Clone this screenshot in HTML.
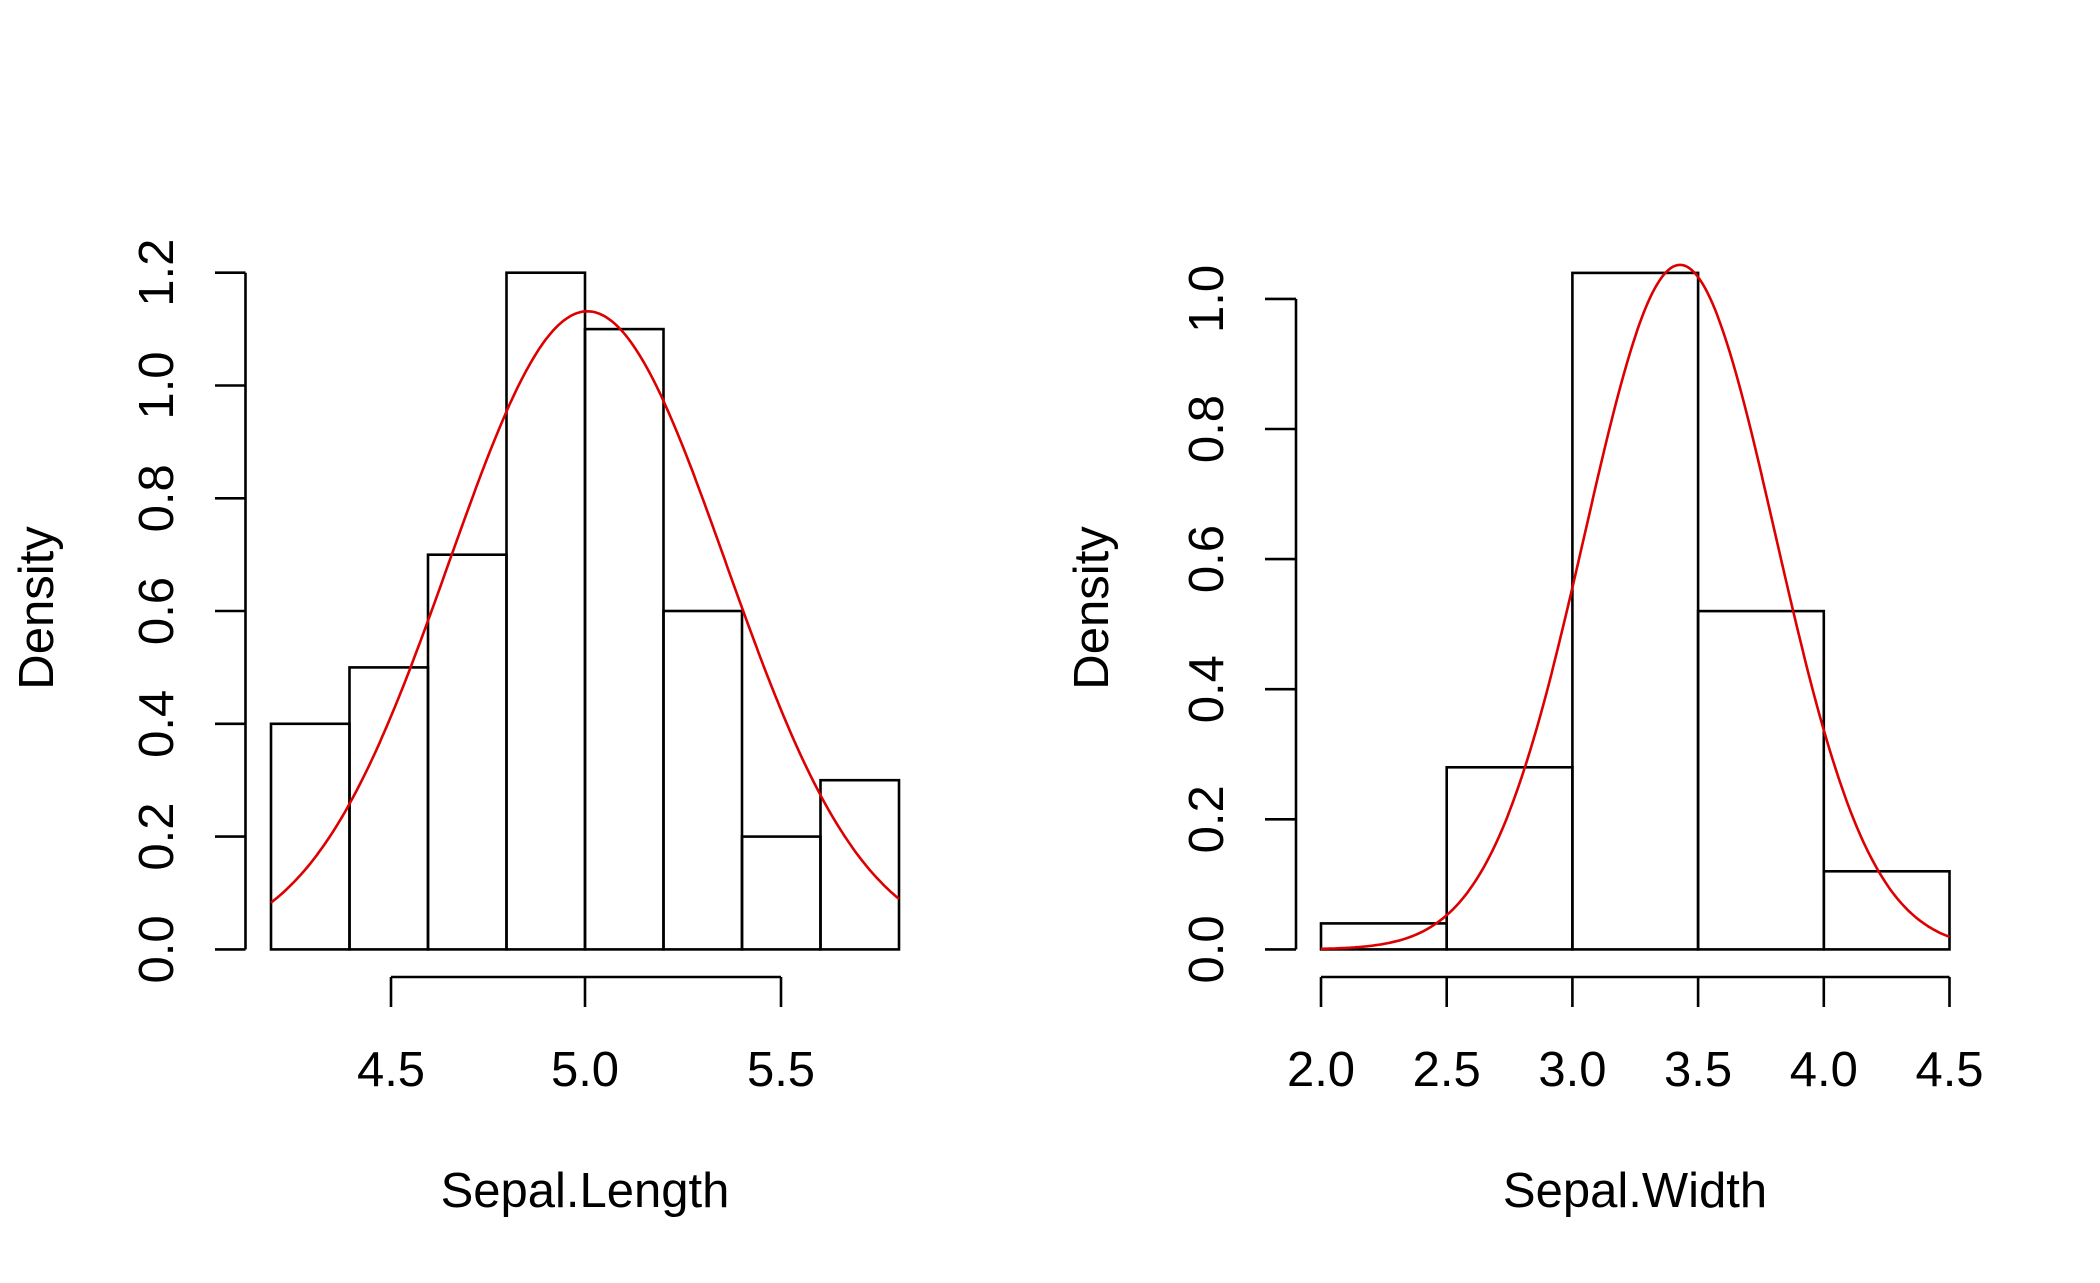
<!DOCTYPE html>
<html><head><meta charset="utf-8"><style>
html,body{margin:0;padding:0;background:#fff;}
svg{display:block;}
text{font-family:"Liberation Sans",Arial,sans-serif;font-size:49px;fill:#000;}
</style></head><body>
<svg id="s" width="2100" height="1283" viewBox="0 0 2100 1283" xmlns="http://www.w3.org/2000/svg">
<g stroke="#000" stroke-width="2.6" fill="none">
<path d="M245.5,272.7 V949.4 M215,949.4 H245.5 M215,836.6 H245.5 M215,723.8 H245.5 M215,611 H245.5 M215,498.3 H245.5 M215,385.5 H245.5 M215,272.7 H245.5"/>
<path d="M391,977 H781 M391,977 V1007 M585,977 V1007 M781,977 V1007"/>
<rect x="271" y="723.8" width="78.5" height="225.6"/>
<rect x="349.5" y="667.4" width="78.5" height="282"/>
<rect x="428" y="554.7" width="78.5" height="394.7"/>
<rect x="506.5" y="272.7" width="78.5" height="676.7"/>
<rect x="585" y="329.1" width="78.5" height="620.3"/>
<rect x="663.5" y="611" width="78.5" height="338.4"/>
<rect x="742" y="836.6" width="78.5" height="112.8"/>
<rect x="820.5" y="780.2" width="78.5" height="169.2"/>
<path d="M1296,298.9 V949.4 M1265,949.4 H1296 M1265,819.3 H1296 M1265,689.2 H1296 M1265,559.1 H1296 M1265,429 H1296 M1265,298.9 H1296"/>
<path d="M1321,977 H1949.5 M1321,977 V1007 M1446.7,977 V1007 M1572.4,977 V1007 M1698.1,977 V1007 M1823.8,977 V1007 M1949.5,977 V1007"/>
<rect x="1321" y="923.4" width="125.7" height="26"/>
<rect x="1446.7" y="767.3" width="125.7" height="182.1"/>
<rect x="1572.4" y="272.9" width="125.7" height="676.5"/>
<rect x="1698.1" y="611.1" width="125.7" height="338.3"/>
<rect x="1823.8" y="871.3" width="125.7" height="78.1"/>
</g>
<path id="c1" stroke="#dd0000" stroke-width="2.6" fill="none"/>
<path id="c2" stroke="#dd0000" stroke-width="2.6" fill="none"/>
<g text-anchor="middle">
<text transform="translate(173,949.4) rotate(-90)">0.0</text>
<text transform="translate(173,836.6) rotate(-90)">0.2</text>
<text transform="translate(173,723.8) rotate(-90)">0.4</text>
<text transform="translate(173,611) rotate(-90)">0.6</text>
<text transform="translate(173,498.3) rotate(-90)">0.8</text>
<text transform="translate(173,385.5) rotate(-90)">1.0</text>
<text transform="translate(173,272.7) rotate(-90)">1.2</text>
<text transform="translate(53,608) rotate(-90)">Density</text>
<text x="391" y="1086">4.5</text><text x="585" y="1086">5.0</text><text x="781" y="1086">5.5</text>
<text x="585" y="1207">Sepal.Length</text>
<text transform="translate(1223,949.4) rotate(-90)">0.0</text>
<text transform="translate(1223,819.3) rotate(-90)">0.2</text>
<text transform="translate(1223,689.2) rotate(-90)">0.4</text>
<text transform="translate(1223,559.1) rotate(-90)">0.6</text>
<text transform="translate(1223,429) rotate(-90)">0.8</text>
<text transform="translate(1223,298.9) rotate(-90)">1.0</text>
<text transform="translate(1108,608) rotate(-90)">Density</text>
<text x="1321" y="1086">2.0</text><text x="1446.7" y="1086">2.5</text><text x="1572.4" y="1086">3.0</text>
<text x="1698.1" y="1086">3.5</text><text x="1823.8" y="1086">4.0</text><text x="1949.5" y="1086">4.5</text>
<text x="1635" y="1207">Sepal.Width</text>
</g>
</svg>
<script>
function curve(id,m,s,x0,x1,px0,pxPer,py0,pyPer){
 var d="";for(var i=0;i<=300;i++){var x=x0+(x1-x0)*i/300;
 var y=Math.exp(-0.5*Math.pow((x-m)/s,2))/(s*Math.sqrt(2*Math.PI));
 d+=(i?"L":"M")+(px0+(x-x0)*pxPer).toFixed(1)+","+(py0-y*pyPer).toFixed(1);}
 document.getElementById(id).setAttribute("d",d);}
curve("c1",5.006,0.3525,4.2,5.8,271,392.5,949.4,563.8);
curve("c2",3.428,0.3791,2.0,4.5,1321,251.4,949.4,650.5);
</script>
</body></html>
